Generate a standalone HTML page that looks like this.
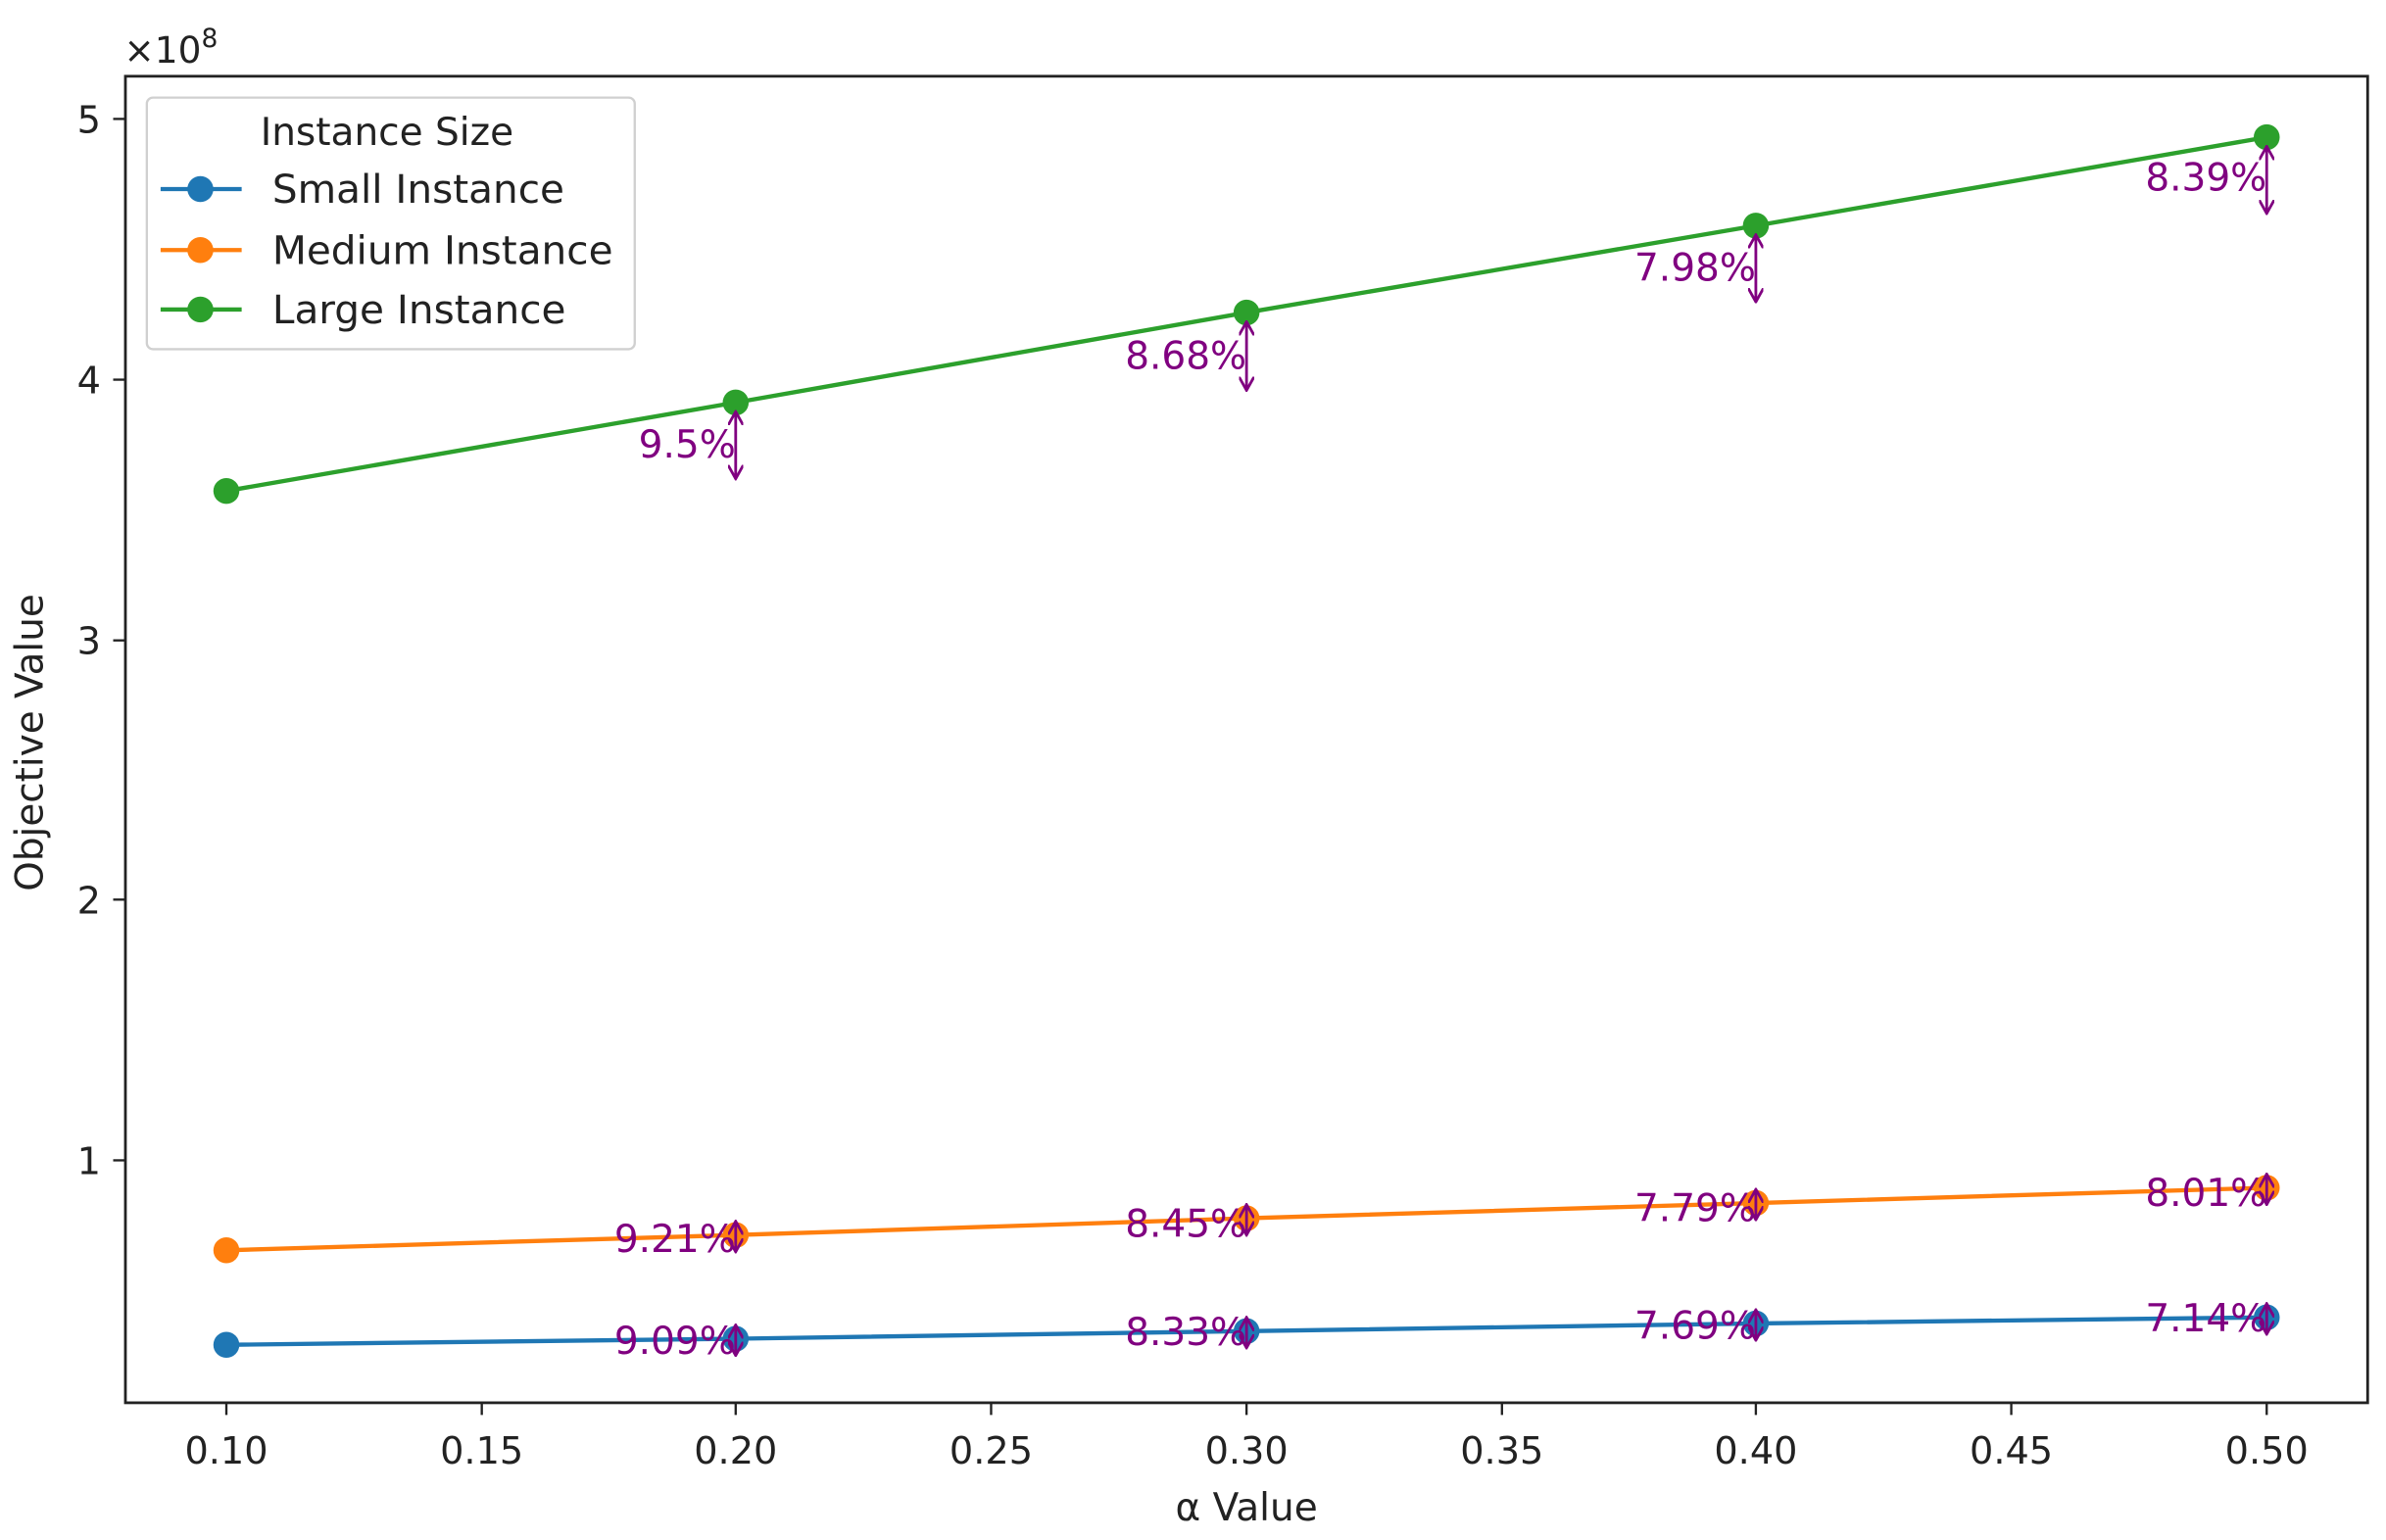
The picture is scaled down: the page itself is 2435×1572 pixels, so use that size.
<!DOCTYPE html>
<html><head><meta charset="utf-8"><style>
html,body{margin:0;padding:0;background:#fff;}
svg{display:block;}
text{font-family:"DejaVu Sans","Liberation Sans",sans-serif;}
</style></head><body>
<svg width="2435" height="1572" viewBox="0 0 1560 1010" preserveAspectRatio="none" xmlns="http://www.w3.org/2000/svg">
<defs>
<marker id="ah" viewBox="0 0 10 10" refX="9" refY="5" markerWidth="10" markerHeight="10" orient="auto-start-reverse" markerUnits="userSpaceOnUse">
<path d="M0,0 L9,5 L0,10" fill="none" stroke="#800080" stroke-width="1.8"/>
</marker>
</defs>
<rect x="0" y="0" width="1560" height="1010" fill="#fff"/>
<rect x="82" y="50" width="1466" height="870" fill="none" stroke="#222" stroke-width="1.8"/>
<g stroke="#222" stroke-width="1.5">
<line x1="148" y1="920" x2="148" y2="928"/><line x1="315" y1="920" x2="315" y2="928"/>
<line x1="481" y1="920" x2="481" y2="928"/><line x1="648" y1="920" x2="648" y2="928"/>
<line x1="815" y1="920" x2="815" y2="928"/><line x1="982" y1="920" x2="982" y2="928"/>
<line x1="1148" y1="920" x2="1148" y2="928"/><line x1="1315" y1="920" x2="1315" y2="928"/>
<line x1="1482" y1="920" x2="1482" y2="928"/>
<line x1="74" y1="78" x2="82" y2="78"/><line x1="74" y1="249" x2="82" y2="249"/>
<line x1="74" y1="420" x2="82" y2="420"/><line x1="74" y1="590" x2="82" y2="590"/>
<line x1="74" y1="761" x2="82" y2="761"/>
</g>
<g font-size="24.5" fill="#222" text-anchor="middle">
<text x="148" y="960">0.10</text><text x="315" y="960">0.15</text><text x="481" y="960">0.20</text>
<text x="648" y="960">0.25</text><text x="815" y="960">0.30</text><text x="982" y="960">0.35</text>
<text x="1148" y="960">0.40</text><text x="1315" y="960">0.45</text><text x="1482" y="960">0.50</text>
</g>
<g font-size="24.5" fill="#222" text-anchor="end">
<text x="66" y="87">5</text><text x="66" y="258">4</text><text x="66" y="429">3</text>
<text x="66" y="599">2</text><text x="66" y="770">1</text>
</g>
<text x="81" y="41" font-size="24" fill="#222">×10<tspan font-size="17" dy="-10">8</tspan></text>
<text x="815" y="997" font-size="25" fill="#222" text-anchor="middle">α Value</text>
<text transform="translate(28,487) rotate(-90)" font-size="25" fill="#222" text-anchor="middle">Objective Value</text>
<polyline points="148,322 481,264 815,205 1148,148 1482,90" fill="none" stroke="#2ca02c" stroke-width="2.8"/>
<polyline points="148,820 481,810 815,799 1148,789 1482,779" fill="none" stroke="#ff7f0e" stroke-width="2.8"/>
<polyline points="148,882 481,878 815,873 1148,868 1482,864" fill="none" stroke="#1f77b4" stroke-width="2.8"/>
<g fill="#2ca02c"><circle cx="148" cy="322" r="8.5"/><circle cx="481" cy="264" r="8.5"/><circle cx="815" cy="205" r="8.5"/><circle cx="1148" cy="148" r="8.5"/><circle cx="1482" cy="90" r="8.5"/></g>
<g fill="#ff7f0e"><circle cx="148" cy="820" r="8.5"/><circle cx="481" cy="810" r="8.5"/><circle cx="815" cy="799" r="8.5"/><circle cx="1148" cy="789" r="8.5"/><circle cx="1482" cy="779" r="8.5"/></g>
<g fill="#1f77b4"><circle cx="148" cy="882" r="8.5"/><circle cx="481" cy="878" r="8.5"/><circle cx="815" cy="873" r="8.5"/><circle cx="1148" cy="868" r="8.5"/><circle cx="1482" cy="864" r="8.5"/></g>
<g stroke="#800080" stroke-width="1.8" marker-start="url(#ah)" marker-end="url(#ah)">
<line x1="481" y1="270" x2="481" y2="314"/><line x1="815" y1="211" x2="815" y2="256"/>
<line x1="1148" y1="154" x2="1148" y2="198"/><line x1="1482" y1="96" x2="1482" y2="140"/>
<line x1="481" y1="801" x2="481" y2="821"/><line x1="815" y1="790" x2="815" y2="810"/>
<line x1="1148" y1="780" x2="1148" y2="800"/><line x1="1482" y1="770" x2="1482" y2="790"/>
<line x1="481" y1="869" x2="481" y2="889"/><line x1="815" y1="864" x2="815" y2="884"/>
<line x1="1148" y1="859" x2="1148" y2="879"/><line x1="1482" y1="855" x2="1482" y2="875"/>
</g>
<g font-size="25" fill="#800080" text-anchor="end">
<text x="481" y="300">9.5%</text><text x="815" y="242">8.68%</text>
<text x="1148" y="184">7.98%</text><text x="1482" y="125">8.39%</text>
<text x="481" y="821">9.21%</text><text x="815" y="811">8.45%</text>
<text x="1148" y="801">7.79%</text><text x="1482" y="791">8.01%</text>
<text x="481" y="888">9.09%</text><text x="815" y="882">8.33%</text>
<text x="1148" y="878">7.69%</text><text x="1482" y="873">7.14%</text>
</g>
<rect x="96" y="64" width="319" height="165" rx="4" fill="#fff" fill-opacity="0.8" stroke="#d0d0d0" stroke-width="1.5"/>
<text x="253" y="95" font-size="25" fill="#222" text-anchor="middle">Instance Size</text>
<line x1="105" y1="124" x2="158" y2="124" stroke="#1f77b4" stroke-width="2.8"/><circle cx="131" cy="124" r="8.5" fill="#1f77b4"/>
<line x1="105" y1="164" x2="158" y2="164" stroke="#ff7f0e" stroke-width="2.8"/><circle cx="131" cy="164" r="8.5" fill="#ff7f0e"/>
<line x1="105" y1="203" x2="158" y2="203" stroke="#2ca02c" stroke-width="2.8"/><circle cx="131" cy="203" r="8.5" fill="#2ca02c"/>
<g font-size="26" fill="#222">
<text x="178" y="133">Small Instance</text>
<text x="178" y="173">Medium Instance</text>
<text x="178" y="212">Large Instance</text>
</g>
</svg>
</body></html>
